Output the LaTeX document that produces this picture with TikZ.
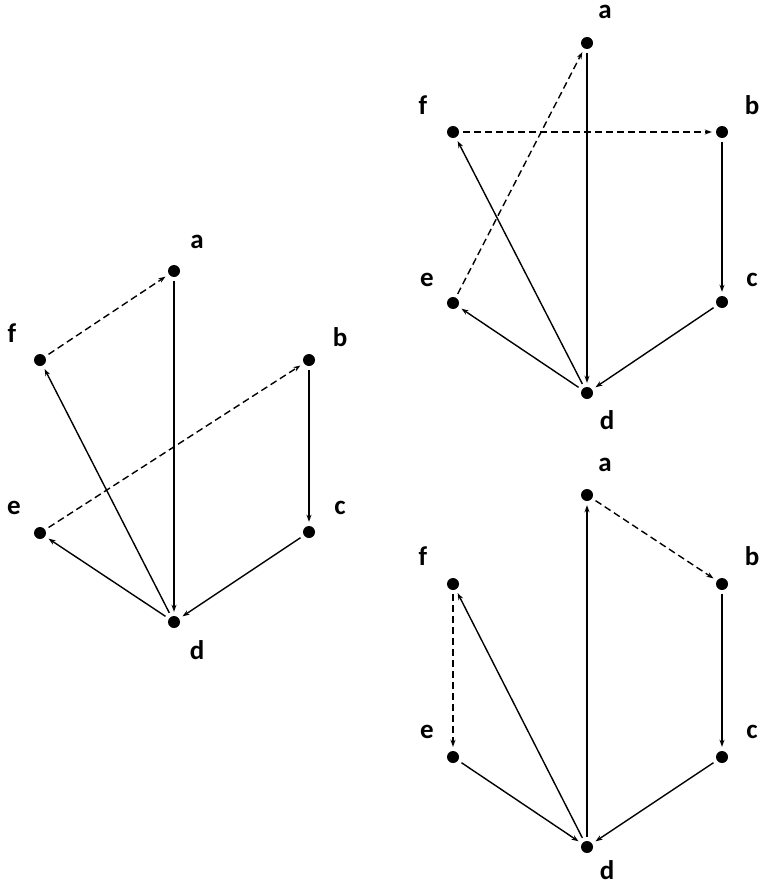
\documentclass[tikz,border=0pt]{standalone}
\usepackage{fontspec}
\setmainfont{Carlito}
\usetikzlibrary{arrows.meta}
\begin{document}
\begin{tikzpicture}[x=1pt,y=-1pt,
  vtx/.style={circle,fill=black,inner sep=0pt,minimum size=12pt},
  lab/.style={font=\bfseries\fontsize{27}{27}\selectfont},
  arr/.style={-{Stealth[length=7pt,width=5pt]},line width=1.4pt,shorten >=4pt,shorten <=4pt},
  dsh/.style={arr,dashed,dash pattern=on 7pt off 4pt}]
\useasboundingbox (0,0) rectangle (769,888);
% left graph
\node[vtx] (la) at (174,271) {}; \node[lab] (lla) at (197,242) {a};
\node[vtx] (lf) at (40,360) {};  \node[lab] (llf) at (12,333) {f};
\node[vtx] (lb) at (309,360) {}; \node[lab] (llb) at (340,337) {b};
\node[vtx] (le) at (40,533) {};  \node[lab] (lle) at (14,508) {e};
\node[vtx] (lc) at (309,532) {}; \node[lab] (llc) at (340,508) {c};
\node[vtx] (ld) at (174,622) {}; \node[lab] (lld) at (197,650) {d};
\draw[dsh] (lf) -- (la);
\draw[dsh] (le) -- (lb);
\draw[arr] (la) -- (ld);
\draw[arr] (lb) -- (lc);
\draw[arr] (lc) -- (ld);
\draw[arr] (ld) -- (le);
\draw[arr] (ld) -- (lf);
% top right
\node[vtx] (ta) at (587,43) {};  \node[lab] (tla) at (605,12) {a};
\node[vtx] (tf) at (453,132) {}; \node[lab] (tlf) at (423,105) {f};
\node[vtx] (tb) at (722,132) {}; \node[lab] (tlb) at (752,105) {b};
\node[vtx] (te) at (453,303) {}; \node[lab] (tle) at (427,280) {e};
\node[vtx] (tc) at (722,302) {}; \node[lab] (tlc) at (752,280) {c};
\node[vtx] (td) at (587,393) {}; \node[lab] (tld) at (607,420) {d};
\draw[dsh] (te) -- (ta);
\draw[dsh] (tf) -- (tb);
\draw[arr] (ta) -- (td);
\draw[arr] (td) -- (tf);
\draw[arr] (tb) -- (tc);
\draw[arr] (tc) -- (td);
\draw[arr] (td) -- (te);
% bottom right
\node[vtx] (ba) at (587,495) {}; \node[lab] (bla) at (605,465) {a};
\node[vtx] (bf) at (453,584) {}; \node[lab] (blf) at (423,556) {f};
\node[vtx] (bb) at (722,584) {}; \node[lab] (blb) at (752,556) {b};
\node[vtx] (be) at (453,757) {}; \node[lab] (ble) at (427,732) {e};
\node[vtx] (bc) at (722,757) {}; \node[lab] (blc) at (752,732) {c};
\node[vtx] (bd) at (587,847) {}; \node[lab] (bld) at (607,870) {d};
\draw[dsh] (ba) -- (bb);
\draw[dsh] (bf) -- (be);
\draw[arr] (bd) -- (ba);
\draw[arr] (bd) -- (bf);
\draw[arr] (bb) -- (bc);
\draw[arr] (be) -- (bd);
\draw[arr] (bc) -- (bd);
\end{tikzpicture}
\end{document}
